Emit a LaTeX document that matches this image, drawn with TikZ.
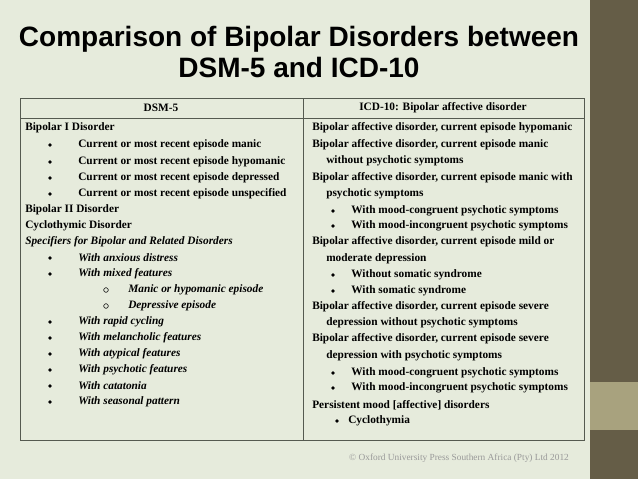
\documentclass[tikz,border=0pt]{standalone}
\usepackage{fontspec}
\setmainfont{Liberation Serif}
\setsansfont{Liberation Sans}
\definecolor{bg}{HTML}{E6EBDC}
\definecolor{strip}{HTML}{655D47}
\definecolor{khaki}{HTML}{A8A27E}
\definecolor{rule}{HTML}{555A50}
\tikzset{
  txt/.style={anchor=west,inner sep=0pt,font=\fontsize{8.5}{9}\selectfont\bfseries},
  itxt/.style={txt,font=\fontsize{8.5}{9}\selectfont\bfseries\itshape},
  dot/.style={circle,fill=black,inner sep=0pt,minimum size=2.8pt},
  ring/.style={circle,draw=black,thin,inner sep=0pt,minimum size=3.5pt}
}
\begin{document}
\begin{tikzpicture}[x=0.75pt,y=-0.75pt]
\useasboundingbox (0,0) rectangle (638,479);
\fill[bg] (0,0) rectangle (638,479);
\fill[strip] (590,0) rectangle (638,479);
\fill[khaki] (590,382) rectangle (638,430);
% title
\node[font=\sffamily\bfseries\fontsize{21}{23.5}\selectfont,align=center] (title) at (299,52)
  {Comparison of Bipolar Disorders between\\DSM-5 and ICD-10};
% table frame
\draw[rule,semithick] (20,98) rectangle (584,440);
\draw[rule] (20,118) -- (584,118) (303,98) -- (303,440);
\node[txt,anchor=center] (hl) at (161,108) {DSM-5};
\node[txt,anchor=center] (hr) at (443,108) {ICD-10: Bipolar affective disorder};
% left column
\node[txt] (l1) at (25,128) {Bipolar I Disorder};
\foreach \y/\t [count=\i] in {145/manic,162/hypomanic,178/depressed,194/unspecified}{
  \node[dot] (lb\i) at (50,\y) {};
  \node[txt] (li\i) at (78,\y) {Current or most recent episode \t};
}
\node[txt] (l2) at (25,210) {Bipolar II Disorder};
\node[txt] (l3) at (25,226) {Cyclothymic Disorder};
\node[itxt] (l4) at (25,242) {Specifiers for Bipolar and Related Disorders};
\foreach \y/\t [count=\i] in {258/With anxious distress,274/With mixed features,322/With rapid cycling,
  338/With melancholic features,354/With atypical features,370/With psychotic features,
  386/With catatonia,402/With seasonal pattern}{
  \node[dot] (sb\i) at (50,\y) {};
  \node[itxt] (si\i) at (78,\y) {\t};
}
\node[ring] (m1) at (106,290) {};
\node[itxt] (mt1) at (128,290) {Manic or hypomanic episode};
\node[ring] (m2) at (106,306) {};
\node[itxt] (mt2) at (128,306) {Depressive episode};
% right column
\node[txt] (r1) at (312,128) {Bipolar affective disorder, current episode hypomanic};
\node[txt] (r2) at (312,145) {Bipolar affective disorder, current episode manic};
\node[txt] (r3) at (326,161) {without psychotic symptoms};
\node[txt] (r4) at (312,178) {Bipolar affective disorder, current episode manic with};
\node[txt] (r5) at (326,194) {psychotic symptoms};
\node[dot] (rb1) at (333,211) {};
\node[txt] (r6) at (351,211) {With mood-congruent psychotic symptoms};
\node[dot] (rb2) at (333,226) {};
\node[txt] (r7) at (351,226) {With mood-incongruent psychotic symptoms};
\node[txt] (r8) at (312,242) {Bipolar affective disorder, current episode mild or};
\node[txt] (r9) at (326,259) {moderate depression};
\node[dot] (rb3) at (333,275) {};
\node[txt] (r10) at (351,275) {Without somatic syndrome};
\node[dot] (rb4) at (333,291) {};
\node[txt] (r11) at (351,291) {With somatic syndrome};
\node[txt] (r12) at (312,307) {Bipolar affective disorder, current episode severe};
\node[txt] (r13) at (326,323) {depression without psychotic symptoms};
\node[txt] (r14) at (312,339) {Bipolar affective disorder, current episode severe};
\node[txt] (r15) at (326,356) {depression with psychotic symptoms};
\node[dot] (rb5) at (333,373) {};
\node[txt] (r16) at (351,373) {With mood-congruent psychotic symptoms};
\node[dot] (rb6) at (333,388) {};
\node[txt] (r17) at (351,388) {With mood-incongruent psychotic symptoms};
\node[txt] (r18) at (312,405) {Persistent mood [affective] disorders};
\node[dot] (rb7) at (337,421) {};
\node[txt] (r19) at (348,421) {Cyclothymia};
% footer
\node[text=gray!80,font=\fontsize{7}{8}\selectfont] (copy) at (459,458)
  {\textcopyright{} Oxford University Press Southern Africa (Pty) Ltd 2012};
\end{tikzpicture}
\end{document}
